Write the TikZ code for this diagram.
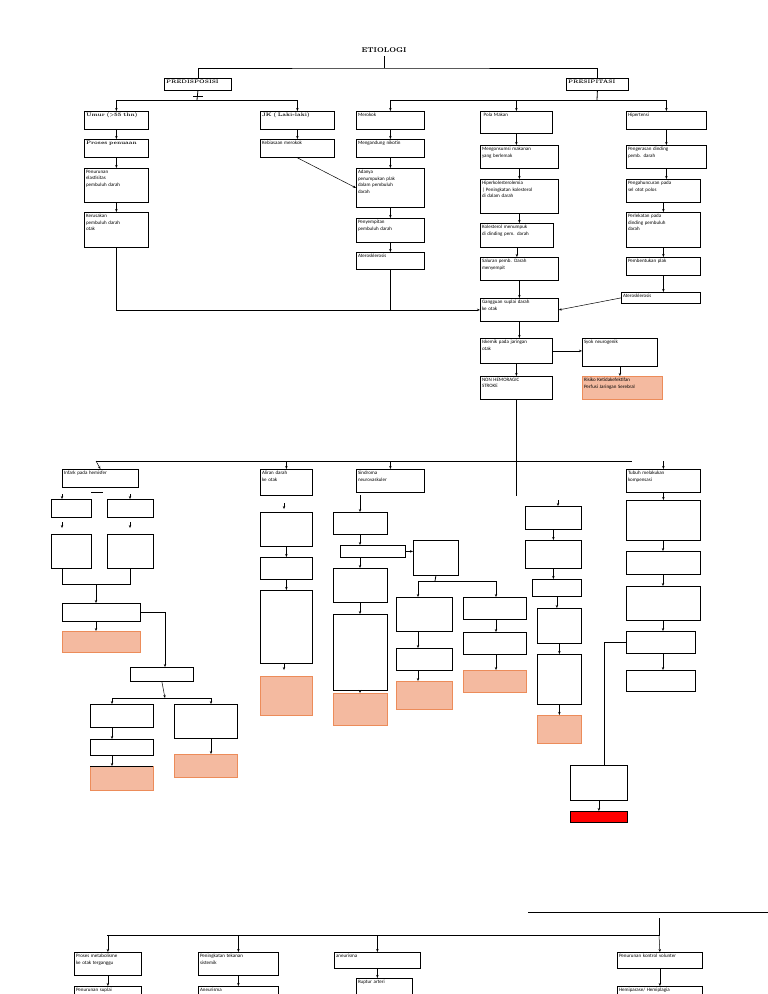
\documentclass[tikz,border=0pt]{standalone}
\usepackage{fontspec}
\setsansfont{Carlito}
\usetikzlibrary{arrows.meta}
\definecolor{risk}{RGB}{244,186,160}
\definecolor{riskline}{RGB}{236,140,90}
\tikzset{
  box/.style={draw,line width=0.8pt,inner sep=0pt,anchor=north west},
  hot/.style={fill=risk,draw=riskline},
  red/.style={fill=red,draw=black},
  txt/.style={font=\fontsize{5}{6.6}\selectfont\sffamily,anchor=north west,inner sep=1.8pt,align=left},
  bold/.style={font=\fontsize{5.5}{6.6}\selectfont\bfseries},
  arr/.style={-{Stealth[length=3pt,width=2.4pt]},line width=0.5pt},
  ln/.style={line width=0.8pt}
}
% box: [style]{name}{x}{y}{w}{h}{text}
\newcommand{\bx}[7][]{%
  \node[box,minimum width=#5pt,minimum height=#6pt,#1] (#2) at (#3,#4) {};
  \node[txt,text width=#5pt-3pt] at (#2.north west) {#7};}
\newcommand{\dn}[2]{\draw[arr] (#1.south) -- (#1.south |- #2.north);}
\begin{document}
\begin{tikzpicture}[x=1pt,y=-1pt]
\useasboundingbox (0,0) rectangle (768,994);
\node[font=\fontsize{7}{8}\selectfont\bfseries] (title) at (384,50) {ETIOLOGI};
\bx{pred}{164}{78}{67}{12}{\textbf{\rmfamily PREDISPOSISI}}
\bx{presi}{566}{78}{62}{12}{\textbf{\rmfamily PRESIPITASI}}
\draw[ln] (title.south) -- (title.south |- 0,68) coordinate (top);
\draw[ln] (pred.north) |- (top) -| (presi.north);
\draw[ln] (193,96) -- (203,96);
% predisposisi
\bx{umur}{84}{111}{64}{18}{\rmfamily\bfseries Umur (>55 thn)}
\bx{jk}{260}{111}{74}{18}{\rmfamily\bfseries JK ( Laki-laki)}
\bx{penuaan}{84}{139}{64}{18}{\rmfamily\bfseries Proses penuaan}
\bx{kebiasaan}{260}{139}{74}{18}{Kebiasaan merokok}
\bx{elast}{84}{168}{64}{34}{Penurunan\\elastisitas\\pembuluh darah}
\bx{rusak}{84}{212}{64}{35}{Kerusakan\\pembuluh darah\\otak}
\draw[ln] (pred.south) -- (197,100) coordinate (p1);
\draw[arr] (p1) -| (umur.north);
\draw[arr] (p1) -| (jk.north);
\dn{umur}{penuaan} \dn{jk}{kebiasaan} \dn{penuaan}{elast} \dn{elast}{rusak}
% presipitasi
\bx{merokok}{356}{111}{68}{18}{Merokok}
\bx{nikotin}{356}{139}{68}{18}{Mengandung nikotin}
\bx{plak}{356}{168}{68}{39}{Adanya\\penumpukan plak\\dalam pembuluh\\darah}
\bx{sempit}{356}{218}{68}{24}{Penyempitan\\pembuluh darah}
\bx{ateroL}{356}{252}{68}{17}{Aterosklerosis}
\bx{pola}{480}{111}{72}{22}{\ Pola Makan}
\bx{lemak}{480}{145}{78}{23}{Mengonsumsi makanan\\yang berlemak}
\bx{koles}{480}{179}{78}{34}{Hiperkolesterolemia\\| Peningkatan kolesterol\\di dalam darah}
\bx{tumpuk}{480}{223}{73}{24}{Kolesterol menumpuk\\di dinding pem. darah}
\bx{saluran}{480}{257}{78}{23}{Saluran pemb. Darah\\menyempit}
\bx{hiper}{626}{111}{80}{18}{Hipertensi}
\bx{keras}{626}{145}{80}{23}{Pengerasan dinding\\pemb. darah}
\bx{hancur}{626}{179}{74}{23}{Pengahuncuran pada\\sel otot polos}
\bx{lekat}{626}{212}{74}{35}{Perlekatan pada\\dinding pembuluh\\darah}
\bx{bentuk}{626}{257}{74}{18}{Pembentukan plak}
\bx{ateroR}{621}{292}{79}{11}{Aterosklerosis}
\draw[ln] (presi.south) -- (597,100) coordinate (q1);
\draw[arr] (q1) -| (merokok.north);
\draw[arr] (q1) -| (pola.north);
\draw[arr] (q1) -| (hiper.north);
\dn{merokok}{nikotin} \dn{nikotin}{plak} \dn{plak}{sempit} \dn{sempit}{ateroL}
\dn{pola}{lemak} \dn{lemak}{koles} \dn{koles}{tumpuk} \dn{tumpuk}{saluran}
\dn{hiper}{keras} \dn{keras}{hancur} \dn{hancur}{lekat} \dn{lekat}{bentuk} \dn{bentuk}{ateroR}
\draw[arr] (kebiasaan.south) -- (plak.west);
% gangguan
\bx{gangguan}{480}{298}{78}{23}{Gangguan suplai darah\\ke otak}
\bx{iskemik}{480}{338}{72}{25}{Iskemik pada jaringan\\otak}
\bx{syok}{582}{338}{75}{28}{Syok neurogenik}
\bx{nhs}{480}{376}{72}{23}{NON HEMORAGIC\\STROKE}
\bx[hot]{risiko}{582}{376}{80}{23}{Risiko Ketidakefektifan\\Perfusi Jaringan Serebral}
\dn{saluran}{gangguan}
\draw[arr] (rusak.south) |- (gangguan.west);
\draw[ln] (ateroL.south) -- (ateroL.south |- gangguan.west);
\draw[arr] (ateroR.west) -- (gangguan.east);
\dn{gangguan}{iskemik} \dn{iskemik}{nhs} \dn{syok}{risiko}
\draw[arr] (iskemik.east) -- (syok.west |- iskemik.east);
\draw[ln] (nhs.south) -- ++(0,96);
\coordinate (h1) at (96,461);
\draw[ln] (h1) -- (632,461);
% lower left
\bx{infark}{62}{469}{76}{18}{Infark pada hemisfer}
\draw[ln] (91,492) -- (103,492);
\draw[arr] (h1) -- (infark.north);
\bx{a1}{51}{499}{40}{18}{}
\bx{b1}{107}{499}{46}{18}{}
\bx{a2}{51}{534}{40}{34}{}
\bx{b2}{107}{534}{46}{34}{}
\draw[arr] (62,494) -- (62,499);
\draw[arr] (130,494) -- (130,499);
\draw[arr] (62,522) -- (62,528);
\draw[arr] (130,522) -- (130,528);
\bx{c1}{62}{603}{78}{18}{}
\bx[hot]{c2}{62}{631}{78}{21}{}
\draw[ln] (62,568) -- (62,584) -- (130,584) -- (130,568);
\draw[arr] (96,584) -- (c1.north -| 96,0);
\draw[arr] (96,621) -- (c2.north -| 96,0);
\bx{d1}{130}{667}{63}{14}{}
\draw[arr] (c1.east) -| (165,667);
\bx{e1}{90}{704}{63}{23}{}
\bx{f1}{174}{704}{63}{34}{}
\bx{e2}{90}{739}{63}{16}{}
\bx[hot]{e3}{90}{766}{63}{24}{}
\bx[hot]{f2}{174}{754}{63}{23}{}
\draw[ln] (112,698) -- (211,698);
\draw[arr] (d1.south) -- (165,698);
\draw[arr] (112,698) -- (112,704);
\draw[arr] (211,698) -- (211,704);
\draw[arr] (112,727) -- (112,739);
\draw[arr] (112,755) -- (112,766);
\draw[arr] (211,738) -- (211,754);
\draw[ln] (90,766) -- (153,766);
% aliran darah
\bx{aliran}{260}{469}{52}{26}{Aliran darah\\ke otak}
\draw[arr] (h1 -| aliran.north) -- (aliran.north);
\bx{g1}{260}{512}{52}{34}{}
\bx{g2}{260}{557}{52}{22}{}
\bx{g3}{260}{590}{52}{73}{}
\bx[hot]{g4}{260}{676}{52}{39}{}
\draw[arr] (284,503) -- (284,509);
\dn{g1}{g2} \dn{g2}{g3} \draw[arr] (284,663) -- (284,670);
% sindroma
\bx{sindroma}{356}{469}{68}{23}{Sindroma\\neurovaskuler}
\draw[arr] (h1 -| sindroma.north) -- (sindroma.north);
\bx{s1}{333}{512}{54}{22}{}
\bx{s2}{340}{545}{65}{12}{}
\bx{s3}{413}{540}{45}{35}{}
\bx{s4}{333}{568}{54}{34}{}
\bx{s5}{333}{614}{54}{76}{}
\bx[hot]{s6}{333}{693}{54}{32}{}
\draw[arr] (360,495) -- (360,512);
\draw[arr] (360,534) -- (360,545);
\draw[arr] (360,557) -- (360,568);
\draw[arr] (360,602) -- (360,614);
\draw[arr] (360,690) -- (360,693);
\draw[arr] (s2.east) -- (s3.west |- s2.east);
\bx{t1}{396}{597}{56}{34}{}
\bx{t2}{396}{648}{56}{22}{}
\bx[hot]{t3}{396}{681}{56}{28}{}
\bx{u1}{463}{597}{63}{22}{}
\bx{u2}{463}{632}{63}{22}{}
\bx[hot]{u3}{463}{670}{63}{22}{}
\draw[ln] (s3.south) -- (435,581);
\draw[ln] (418,581) -- (496,581);
\draw[arr] (418,581) -- (418,597);
\draw[arr] (496,581) -- (496,597);
\draw[arr] (418,631) -- (418,648);
\draw[arr] (418,670) -- (418,681);
\draw[arr] (496,619) -- (496,632);
\draw[arr] (496,654) -- (496,670);
% kolom kanan
\bx{v1}{525}{506}{56}{23}{}
\bx{v2}{525}{540}{56}{28}{}
\bx{v3}{532}{579}{49}{17}{}
\bx{v4}{537}{608}{44}{35}{}
\bx{v5}{537}{654}{44}{50}{}
\bx[hot]{v6}{537}{715}{44}{28}{}
\draw[arr] (558,500) -- (558,506);
\dn{v1}{v2} \dn{v2}{v3} \dn{v3}{v4} \dn{v4}{v5} \dn{v5}{v6}
% kompensasi
\bx{tubuh}{626}{469}{74}{23}{Tubuh melakukan\\kompensasi}
\draw[arr] (h1 -| tubuh.north) -- (tubuh.north);
\bx{w1}{626}{500}{74}{40}{}
\bx{w2}{626}{551}{74}{23}{}
\bx{w3}{626}{586}{74}{34}{}
\bx{w4}{626}{631}{69}{22}{}
\bx{w5}{626}{670}{69}{21}{}
\draw[arr] (tubuh.south) -- (tubuh.south |- w1.north);
\draw[arr] (663,540) -- (663,551);
\draw[arr] (663,574) -- (663,586);
\draw[arr] (663,620) -- (663,631);
\draw[arr] (663,653) -- (663,670);
\bx{x1}{570}{765}{57}{35}{}
\bx[red]{x2}{570}{811}{57}{11}{}
\draw[ln] (w4.west) -| (604,765);
\dn{x1}{x2}
% bawah
\draw[ln] (528,912) -- (768,912);
\coordinate (h2) at (659,935);
\draw[ln] (659,918) -- (h2) -- (107,935);
\bx{m1}{74}{952}{67}{23}{Proses metabolisme\\ke otak terganggu}
\bx{m2}{198}{952}{80}{23}{Peningkatan tekanan\\sistemik}
\bx{m3}{334}{952}{86}{16}{aneurisma}
\bx{m4}{617}{952}{85}{16}{Penurunan kontrol volunter}
\bx{n1}{74}{986}{67}{30}{Penurunan suplai}
\bx{n2}{198}{986}{80}{30}{Aneurisma}
\bx{n3}{356}{978}{56}{30}{Ruptur arteri}
\bx{n4}{617}{986}{85}{30}{Hemiparase/ Hemiplagia}
\draw[arr] (h2 -| m1.north) -- (m1.north);
\draw[arr] (h2 -| m2.north) -- (m2.north);
\draw[arr] (h2 -| m3.north) -- (m3.north);
\draw[arr] (h2) -- (m4.north);
\dn{m1}{n1} \dn{m2}{n2} \dn{m3}{n3} \dn{m4}{n4}
\end{tikzpicture}
\end{document}
